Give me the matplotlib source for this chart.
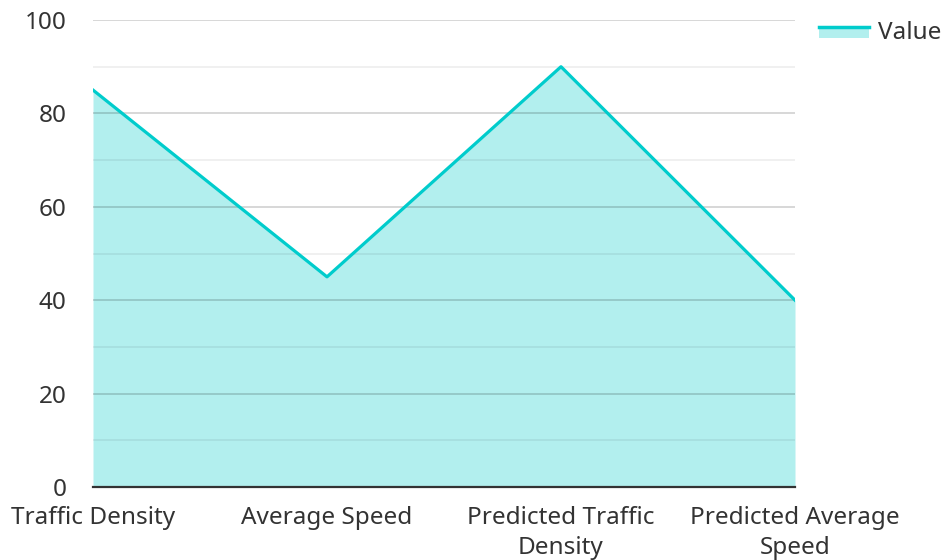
import matplotlib.pyplot as plt
from matplotlib.patches import Rectangle
from matplotlib.lines import Line2D
from matplotlib.legend_handler import HandlerBase

plt.rcParams['font.family'] = ['Noto Sans', 'DejaVu Sans']

categories = ["Traffic Density", "Average Speed", "Predicted Traffic\nDensity", "Predicted Average\nSpeed"]
values = [85, 45, 90, 40]
y_ticks = [0, 20, 40, 60, 80, 100]

line_color = "#00cccc"
fill_color = "#b2efee"
text_color = "#333333"
fs = 17.5


class AreaHandler(HandlerBase):
    # line on top, filled band underneath
    def create_artists(self, legend, orig_handle, xdescent, ydescent, width, height, fontsize, trans):
        top = height * 0.72
        rect = Rectangle((-xdescent, top - height * 0.62), width, height * 0.62,
                         facecolor=fill_color, edgecolor='none', transform=trans)
        line = Line2D([-xdescent, -xdescent + width], [top, top], color=line_color,
                      linewidth=2.5, transform=trans)
        return [rect, line]


fig = plt.figure(figsize=(9.44, 5.6), dpi=100)
ax = fig.add_axes([93 / 944, 73 / 560, 702 / 944, 467 / 560])

x = list(range(len(categories)))
ax.fill_between(x, values, 0, color=fill_color, linewidth=0, zorder=1)
ax.plot(x, values, color=line_color, linewidth=2.3, zorder=3)

ax.set_xlim(0, len(categories) - 1)
ax.set_ylim(0, 100)
ax.set_yticks(y_ticks)
ax.set_yticks(range(10, 100, 20), minor=True)
ax.set_xticks(x)
ax.set_xticklabels(categories, linespacing=1.35)

# grid sits over the fill, semi-transparent
ax.grid(axis='y', which='major', color='black', alpha=0.2, linewidth=1.1, zorder=2)
ax.grid(axis='y', which='minor', color='black', alpha=0.08, linewidth=1.1, zorder=2)
ax.set_axisbelow(False)

for s in ['top', 'right', 'left']:
    ax.spines[s].set_visible(False)
ax.spines['bottom'].set_color(text_color)
ax.spines['bottom'].set_linewidth(1.6)
ax.spines['bottom'].set_zorder(4)

ax.tick_params(axis='both', which='both', length=0, labelsize=fs, colors=text_color)
ax.tick_params(axis='y', pad=19)
ax.tick_params(axis='x', pad=13.5)

leg = fig.legend([object()], ["Value"], handler_map={object: AreaHandler()},
                 loc='upper left', bbox_to_anchor=(812 / 944, 1 - 14 / 560),
                 frameon=False, fontsize=fs, handlelength=2.05, handletextpad=0.35,
                 borderaxespad=0, borderpad=0.3)
for t in leg.get_texts():
    t.set_color(text_color)

fig.savefig("out.png", dpi=100)
